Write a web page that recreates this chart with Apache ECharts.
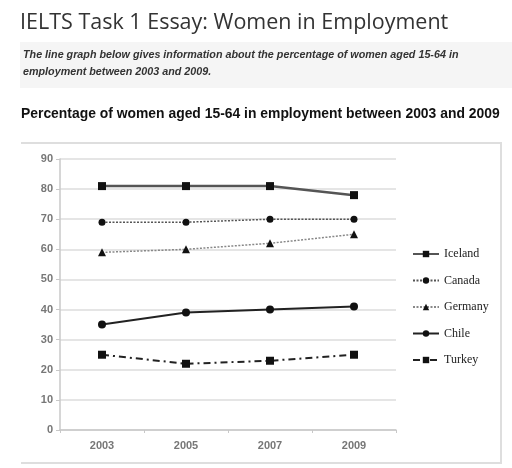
<!DOCTYPE html>
<html>
<head>
<meta charset="utf-8">
<script src="https://cdn.jsdelivr.net/npm/echarts@6/dist/echarts.min.js"></script>
<style>
html,body{margin:0;padding:0;background:#fff;}
#chart{width:512px;height:468px;}
</style>
</head>
<body>
<div id="chart"></div>
<script>
var years = ['2003', '2005', '2007', '2009'];
var yTicks = [0, 10, 20, 30, 40, 50, 60, 70, 80, 90];
var iceland = [81, 81, 81, 78];
var canada = [69, 69, 70, 70];
var germany = [59, 60, 62, 65];
var chile = [35, 39, 40, 41];
var turkey = [25, 22, 23, 25];

var chart = echarts.init(document.getElementById('chart'));
var markerColor = '#111';
chart.setOption({
  animation: false,
  backgroundColor: '#fff',
  title: [
    {
      text: 'IELTS Task 1 Essay: Women in Employment',
      left: 20, top: 9, padding: 0,
      textStyle: {fontFamily: 'Open Sans', fontSize: 21.5, fontWeight: 'normal', color: '#333', lineHeight: 28}
    },
    {
      text: 'The line graph below gives information about the percentage of women aged 15-64 in\nemployment between 2003 and 2009.',
      left: 23, top: 47, padding: 0,
      textStyle: {fontFamily: 'Liberation Sans', fontSize: 10.75, fontWeight: 'bold', fontStyle: 'italic', color: '#333', lineHeight: 17}
    },
    {
      text: 'Percentage of women aged 15-64 in employment between 2003 and 2009',
      left: 21, top: 106, padding: 0,
      textStyle: {fontFamily: 'Liberation Sans', fontSize: 13.9, fontWeight: 'bold', color: '#111', lineHeight: 16}
    }
  ],
  graphic: [
    {type: 'rect', z: -10, shape: {x: 20, y: 42, width: 492, height: 46}, style: {fill: '#f5f5f5'}},
    {type: 'polyline', z: -10, shape: {points: [[21, 143], [501, 143], [501, 463], [21, 463]]}, style: {stroke: '#dedede', lineWidth: 2, fill: null}}
  ],
  legend: {
    orient: 'vertical',
    left: 407, top: 243,
    itemWidth: 26, itemHeight: 8, itemGap: 14.5,
    textStyle: {fontFamily: 'Liberation Serif', fontSize: 12, color: '#222'},
    data: ['Iceland', 'Canada', 'Germany', 'Chile', 'Turkey']
  },
  grid: {left: 60, right: 116, top: 159, bottom: 38, containLabel: false},
  xAxis: {
    type: 'category',
    data: years,
    boundaryGap: true,
    axisLine: {lineStyle: {color: '#c8c8c8', width: 1.5}},
    axisTick: {show: true, length: 3, lineStyle: {color: '#c8c8c8'}},
    axisLabel: {margin: 10, fontFamily: 'Liberation Sans', fontSize: 11, fontWeight: 'bold', color: '#777'}
  },
  yAxis: {
    type: 'value',
    min: 0, max: 90, interval: 10,
    axisLine: {show: true, lineStyle: {color: '#c8c8c8', width: 1.5}},
    axisTick: {show: true, length: 4, lineStyle: {color: '#c8c8c8'}},
    axisLabel: {margin: 7, fontFamily: 'Liberation Sans', fontSize: 11, fontWeight: 'bold', color: '#777',
      formatter: function (v) { return yTicks.indexOf(v) >= 0 ? String(v) : ''; }},
    splitLine: {lineStyle: {color: '#dcdcdc', width: 1.5}}
  },
  series: [
    {name: 'Iceland', type: 'line', data: iceland, symbol: 'rect', symbolSize: 8,
      itemStyle: {color: markerColor}, lineStyle: {color: '#555', width: 2.5, type: 'solid'}},
    {name: 'Canada', type: 'line', data: canada, symbol: 'circle', symbolSize: 7,
      itemStyle: {color: markerColor}, lineStyle: {color: '#555', width: 1.5, type: [2, 1.5]}},
    {name: 'Germany', type: 'line', data: germany, symbol: 'triangle', symbolSize: 8,
      itemStyle: {color: markerColor}, lineStyle: {color: '#888', width: 1.5, type: [2, 1.5]}},
    {name: 'Chile', type: 'line', data: chile, symbol: 'circle', symbolSize: 8,
      itemStyle: {color: markerColor}, lineStyle: {color: '#222', width: 2, type: 'solid'}},
    {name: 'Turkey', type: 'line', data: turkey, symbol: 'rect', symbolSize: 8,
      itemStyle: {color: markerColor}, lineStyle: {color: '#222', width: 2, type: [7, 4, 2, 4]}}
  ]
});
</script>
</body>
</html>
